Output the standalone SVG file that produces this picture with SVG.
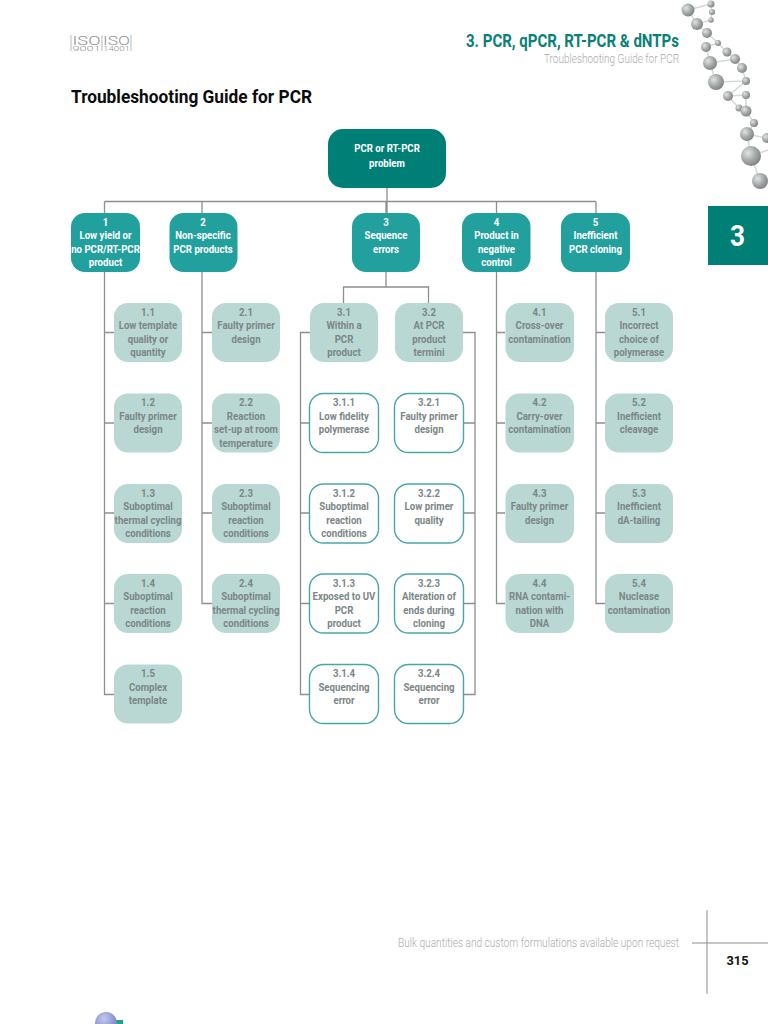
<svg xmlns="http://www.w3.org/2000/svg" width="768" height="1024" viewBox="0 0 768 1024">
<style>
text{font-family:"Roboto","Liberation Sans",sans-serif;font-weight:700;text-anchor:middle}
.c path{fill:none;stroke:#8b8f90;stroke-width:1.3}
.top rect{fill:#007f77}.l1 rect{fill:#21a09e}.l2 rect{fill:#b9d8d4}.l3 rect{fill:#fff;stroke:#4aa6a5;stroke-width:1.4}
.top text,.l1 text{fill:#fff;font-size:11.5px}
.l2 text,.l3 text{fill:#7b8687;font-size:11.5px}
.mol circle{fill:url(#ball)}.mol path{fill:none;stroke:#d6d8d8;stroke-width:1.5}
.lg{fill:#8f9396;font-weight:300;text-anchor:start}
</style>
<defs><radialGradient id="ball" cx=".35" cy=".35" r=".75"><stop offset="0" stop-color="#e2e4e4"/><stop offset=".55" stop-color="#a2a6a6"/><stop offset="1" stop-color="#777b7b"/></radialGradient>
<radialGradient id="sph" cx=".4" cy=".3" r=".8"><stop offset="0" stop-color="#c3c8ee"/><stop offset="1" stop-color="#6a74bc"/></radialGradient></defs>
<rect width="768" height="1024" fill="#fff"/>

<g id="molecule" class="mol">
<path d="M688 10L711 4L712 12L711 20L697 24L688 10M697 24L707 33L718 43L706 47L710 63L735 59L727 52L718 43M735 59L742 68L746 81L716 82L710 63M746 81L728 96L746 95L746 111L739 108L728 96M746 111L754 123L747 134L767 138M747 134L751 156L760 181M751 156L768 150"/>
<circle cx="688" cy="10" r="6.5"/><circle cx="711" cy="4" r="3.5"/><circle cx="712" cy="12" r="3"/><circle cx="711" cy="20" r="2.7"/><circle cx="697" cy="24" r="6"/><circle cx="707" cy="33" r="5"/><circle cx="718" cy="43" r="3"/><circle cx="706" cy="47" r="5"/><circle cx="727" cy="52" r="4.5"/><circle cx="735" cy="59" r="5"/><circle cx="710" cy="63" r="7"/><circle cx="742" cy="68" r="5"/><circle cx="716" cy="82" r="8"/><circle cx="746" cy="81" r="4"/><circle cx="728" cy="96" r="5"/><circle cx="746" cy="95" r="4"/><circle cx="739" cy="108" r="3.5"/><circle cx="746" cy="111" r="5.5"/><circle cx="754" cy="123" r="4"/><circle cx="747" cy="134" r="7"/><circle cx="767" cy="138" r="5"/><circle cx="751" cy="156" r="10"/><circle cx="760" cy="181" r="8"/>
</g>

<g id="iso-logo">
<path d="M71 35V51M102 35V51M131 35V51" stroke="#a8a8a8" stroke-width=".8"/>
<text class="lg" x="72.500" y="45" font-size="12.5" textLength="28" lengthAdjust="spacingAndGlyphs">ISO</text>
<text class="lg" x="103" y="45" font-size="12.5" textLength="27" lengthAdjust="spacingAndGlyphs">ISO</text>
<text class="lg" x="72.500" y="51" font-size="6.500" textLength="28" lengthAdjust="spacingAndGlyphs">9001</text>
<text class="lg" x="103" y="51" font-size="6.500" textLength="27" lengthAdjust="spacingAndGlyphs">14001</text>
</g>

<text x="679" y="46.500" style="text-anchor:end;fill:#0b7f78;font-size:18px" textLength="213" lengthAdjust="spacingAndGlyphs">3. PCR, qPCR, RT-PCR &amp; dNTPs</text>
<text x="679" y="63" style="text-anchor:end;fill:#a8acac;font-size:12px;font-weight:300" textLength="135" lengthAdjust="spacingAndGlyphs">Troubleshooting Guide for PCR</text>
<text x="71" y="103" style="text-anchor:start;fill:#0c0c0c;font-size:19px" textLength="241" lengthAdjust="spacingAndGlyphs">Troubleshooting Guide for PCR</text>

<g id="tab"><rect x="708" y="206" width="60" height="59" fill="#007f77"/><text x="737.500" y="246" style="fill:#fff;font-size:29px" textLength="15" lengthAdjust="spacingAndGlyphs">3</text></g>

<g id="connectors" class="c">
<path d="M387 188V213M104.500 201.500H596M104.500 201.500V213M202 201.500V213M386 201.500V213M496.500 201.500V213M596 201.500V213"/>
<path d="M104.500 271V694.500H114M104.500 332.500H114M104.500 423H114M104.500 513H114M104.500 603.500H114"/>
<path d="M202 271V603.500H212M202 332.500H212M202 423H212M202 513H212"/>
<path d="M386 271V287M343.500 303V287H428.500V303"/>
<path d="M310 332.500H300.500V694.500H310M300.500 423H310M300.500 513H310M300.500 603.500H310"/>
<path d="M463 332.500H475V694.500H463M475 423H463M475 513H463M475 603.500H463"/>
<path d="M496.500 271V603.500H505M496.500 332.500H505M496.500 423H505M496.500 513H505"/>
<path d="M596 271V603.500H605M596 332.500H605M596 423H605M596 513H605"/>
</g>

<g id="root" class="top"><rect x="328" y="129" width="118" height="59" rx="15"/><g transform="translate(387 0) scale(.84 1)"><text><tspan x="0" y="152.500">PCR or RT-PCR</tspan><tspan x="0" y="167">problem</tspan></text></g></g>

<g id="n1" class="l1"><rect x="71" y="213" width="69" height="59" rx="14"/><g transform="translate(105.500 0) scale(.84 1)"><text><tspan x="0" y="226">1</tspan><tspan x="0" y="239.500">Low yield or</tspan><tspan x="0" y="253">no PCR/RT-PCR</tspan><tspan x="0" y="266">product</tspan></text></g></g>
<g id="n2" class="l1"><rect x="169.500" y="213" width="68" height="59" rx="14"/><g transform="translate(203 0) scale(.84 1)"><text><tspan x="0" y="226">2</tspan><tspan x="0" y="239.500">Non-specific</tspan><tspan x="0" y="253">PCR products</tspan></text></g></g>
<g id="n3" class="l1"><rect x="352" y="213" width="68" height="59" rx="14"/><g transform="translate(386 0) scale(.84 1)"><text><tspan x="0" y="226">3</tspan><tspan x="0" y="239.500">Sequence</tspan><tspan x="0" y="253">errors</tspan></text></g></g>
<g id="n4" class="l1"><rect x="462" y="213" width="68.500" height="59" rx="14"/><g transform="translate(496.500 0) scale(.84 1)"><text><tspan x="0" y="226">4</tspan><tspan x="0" y="239.500">Product in</tspan><tspan x="0" y="253">negative</tspan><tspan x="0" y="266">control</tspan></text></g></g>
<g id="n5" class="l1"><rect x="561" y="213" width="69" height="59" rx="14"/><g transform="translate(595.500 0) scale(.84 1)"><text><tspan x="0" y="226">5</tspan><tspan x="0" y="239.500">Inefficient</tspan><tspan x="0" y="253">PCR cloning</tspan></text></g></g>

<g id="n1-1" class="l2"><rect x="114" y="303" width="68" height="59" rx="14"/><g transform="translate(148 0) scale(.84 1)"><text><tspan x="0" y="316">1.1</tspan><tspan x="0" y="329.500">Low template</tspan><tspan x="0" y="343">quality or</tspan><tspan x="0" y="356">quantity</tspan></text></g></g>
<g id="n1-2" class="l2"><rect x="114" y="393.500" width="68" height="59" rx="14"/><g transform="translate(148 0) scale(.84 1)"><text><tspan x="0" y="406.500">1.2</tspan><tspan x="0" y="420">Faulty primer</tspan><tspan x="0" y="433.500">design</tspan></text></g></g>
<g id="n1-3" class="l2"><rect x="114" y="484" width="68" height="59" rx="14"/><g transform="translate(148 0) scale(.84 1)"><text><tspan x="0" y="497">1.3</tspan><tspan x="0" y="510.500">Suboptimal</tspan><tspan x="0" y="524">thermal cycling</tspan><tspan x="0" y="537">conditions</tspan></text></g></g>
<g id="n1-4" class="l2"><rect x="114" y="574" width="68" height="59" rx="14"/><g transform="translate(148 0) scale(.84 1)"><text><tspan x="0" y="587">1.4</tspan><tspan x="0" y="600.500">Suboptimal</tspan><tspan x="0" y="614">reaction</tspan><tspan x="0" y="627">conditions</tspan></text></g></g>
<g id="n1-5" class="l2"><rect x="114" y="664.500" width="68" height="59" rx="14"/><g transform="translate(148 0) scale(.84 1)"><text><tspan x="0" y="677.500">1.5</tspan><tspan x="0" y="691">Complex</tspan><tspan x="0" y="704.500">template</tspan></text></g></g>

<g id="n2-1" class="l2"><rect x="212" y="303" width="68" height="59" rx="14"/><g transform="translate(246 0) scale(.84 1)"><text><tspan x="0" y="316">2.1</tspan><tspan x="0" y="329.500">Faulty primer</tspan><tspan x="0" y="343">design</tspan></text></g></g>
<g id="n2-2" class="l2"><rect x="212" y="393.500" width="68" height="59" rx="14"/><g transform="translate(246 0) scale(.84 1)"><text><tspan x="0" y="406.500">2.2</tspan><tspan x="0" y="420">Reaction</tspan><tspan x="0" y="433.500">set-up at room</tspan><tspan x="0" y="447">temperature</tspan></text></g></g>
<g id="n2-3" class="l2"><rect x="212" y="484" width="68" height="59" rx="14"/><g transform="translate(246 0) scale(.84 1)"><text><tspan x="0" y="497">2.3</tspan><tspan x="0" y="510.500">Suboptimal</tspan><tspan x="0" y="524">reaction</tspan><tspan x="0" y="537">conditions</tspan></text></g></g>
<g id="n2-4" class="l2"><rect x="212" y="574" width="68" height="59" rx="14"/><g transform="translate(246 0) scale(.84 1)"><text><tspan x="0" y="587">2.4</tspan><tspan x="0" y="600.500">Suboptimal</tspan><tspan x="0" y="614">thermal cycling</tspan><tspan x="0" y="627">conditions</tspan></text></g></g>

<g id="n3-1" class="l2"><rect x="310" y="303" width="68" height="59" rx="14"/><g transform="translate(344 0) scale(.84 1)"><text><tspan x="0" y="316">3.1</tspan><tspan x="0" y="329.500">Within a</tspan><tspan x="0" y="343">PCR</tspan><tspan x="0" y="356">product</tspan></text></g></g>
<g id="n3-2" class="l2"><rect x="395" y="303" width="68" height="59" rx="14"/><g transform="translate(429 0) scale(.84 1)"><text><tspan x="0" y="316">3.2</tspan><tspan x="0" y="329.500">At PCR</tspan><tspan x="0" y="343">product</tspan><tspan x="0" y="356">termini</tspan></text></g></g>

<g id="n3-1-1" class="l3"><rect x="309.500" y="393.500" width="69" height="59" rx="14"/><g transform="translate(344 0) scale(.84 1)"><text><tspan x="0" y="406.500">3.1.1</tspan><tspan x="0" y="420">Low fidelity</tspan><tspan x="0" y="433.500">polymerase</tspan></text></g></g>
<g id="n3-1-2" class="l3"><rect x="309.500" y="484" width="69" height="59" rx="14"/><g transform="translate(344 0) scale(.84 1)"><text><tspan x="0" y="497">3.1.2</tspan><tspan x="0" y="510.500">Suboptimal</tspan><tspan x="0" y="524">reaction</tspan><tspan x="0" y="537">conditions</tspan></text></g></g>
<g id="n3-1-3" class="l3"><rect x="309.500" y="574" width="69" height="59" rx="14"/><g transform="translate(344 0) scale(.84 1)"><text><tspan x="0" y="587">3.1.3</tspan><tspan x="0" y="600.500">Exposed to UV</tspan><tspan x="0" y="614">PCR</tspan><tspan x="0" y="627">product</tspan></text></g></g>
<g id="n3-1-4" class="l3"><rect x="309.500" y="664.500" width="69" height="59" rx="14"/><g transform="translate(344 0) scale(.84 1)"><text><tspan x="0" y="677.500">3.1.4</tspan><tspan x="0" y="691">Sequencing</tspan><tspan x="0" y="704.500">error</tspan></text></g></g>
<g id="n3-2-1" class="l3"><rect x="394.500" y="393.500" width="69" height="59" rx="14"/><g transform="translate(429 0) scale(.84 1)"><text><tspan x="0" y="406.500">3.2.1</tspan><tspan x="0" y="420">Faulty primer</tspan><tspan x="0" y="433.500">design</tspan></text></g></g>
<g id="n3-2-2" class="l3"><rect x="394.500" y="484" width="69" height="59" rx="14"/><g transform="translate(429 0) scale(.84 1)"><text><tspan x="0" y="497">3.2.2</tspan><tspan x="0" y="510.500">Low primer</tspan><tspan x="0" y="524">quality</tspan></text></g></g>
<g id="n3-2-3" class="l3"><rect x="394.500" y="574" width="69" height="59" rx="14"/><g transform="translate(429 0) scale(.84 1)"><text><tspan x="0" y="587">3.2.3</tspan><tspan x="0" y="600.500">Alteration of</tspan><tspan x="0" y="614">ends during</tspan><tspan x="0" y="627">cloning</tspan></text></g></g>
<g id="n3-2-4" class="l3"><rect x="394.500" y="664.500" width="69" height="59" rx="14"/><g transform="translate(429 0) scale(.84 1)"><text><tspan x="0" y="677.500">3.2.4</tspan><tspan x="0" y="691">Sequencing</tspan><tspan x="0" y="704.500">error</tspan></text></g></g>

<g id="n4-1" class="l2"><rect x="505.500" y="303" width="68.500" height="59" rx="14"/><g transform="translate(539.500 0) scale(.84 1)"><text><tspan x="0" y="316">4.1</tspan><tspan x="0" y="329.500">Cross-over</tspan><tspan x="0" y="343">contamination</tspan></text></g></g>
<g id="n4-2" class="l2"><rect x="505.500" y="393.500" width="68.500" height="59" rx="14"/><g transform="translate(539.500 0) scale(.84 1)"><text><tspan x="0" y="406.500">4.2</tspan><tspan x="0" y="420">Carry-over</tspan><tspan x="0" y="433.500">contamination</tspan></text></g></g>
<g id="n4-3" class="l2"><rect x="505.500" y="484" width="68.500" height="59" rx="14"/><g transform="translate(539.500 0) scale(.84 1)"><text><tspan x="0" y="497">4.3</tspan><tspan x="0" y="510.500">Faulty primer</tspan><tspan x="0" y="524">design</tspan></text></g></g>
<g id="n4-4" class="l2"><rect x="505.500" y="574" width="68.500" height="59" rx="14"/><g transform="translate(539.500 0) scale(.84 1)"><text><tspan x="0" y="587">4.4</tspan><tspan x="0" y="600.500">RNA contami-</tspan><tspan x="0" y="614">nation with</tspan><tspan x="0" y="627">DNA</tspan></text></g></g>

<g id="n5-1" class="l2"><rect x="605" y="303" width="68" height="59" rx="14"/><g transform="translate(639 0) scale(.84 1)"><text><tspan x="0" y="316">5.1</tspan><tspan x="0" y="329.500">Incorrect</tspan><tspan x="0" y="343">choice of</tspan><tspan x="0" y="356">polymerase</tspan></text></g></g>
<g id="n5-2" class="l2"><rect x="605" y="393.500" width="68" height="59" rx="14"/><g transform="translate(639 0) scale(.84 1)"><text><tspan x="0" y="406.500">5.2</tspan><tspan x="0" y="420">Inefficient</tspan><tspan x="0" y="433.500">cleavage</tspan></text></g></g>
<g id="n5-3" class="l2"><rect x="605" y="484" width="68" height="59" rx="14"/><g transform="translate(639 0) scale(.84 1)"><text><tspan x="0" y="497">5.3</tspan><tspan x="0" y="510.500">Inefficient</tspan><tspan x="0" y="524">dA-tailing</tspan></text></g></g>
<g id="n5-4" class="l2"><rect x="605" y="574" width="68" height="59" rx="14"/><g transform="translate(639 0) scale(.84 1)"><text><tspan x="0" y="587">5.4</tspan><tspan x="0" y="600.500">Nuclease</tspan><tspan x="0" y="614">contamination</tspan></text></g></g>

<g id="footer">
<path d="M707 910V994M692 943H768" stroke="#8b8f90" stroke-width="1" fill="none"/>
<text x="679" y="947" style="text-anchor:end;fill:#a9adad;font-size:12px;font-weight:300" textLength="281" lengthAdjust="spacingAndGlyphs">Bulk quantities and custom formulations available upon request</text>
<text x="737.500" y="965" style="fill:#111;font-size:13px" textLength="22" lengthAdjust="spacingAndGlyphs">315</text>
</g>
<g id="bottom-mark"><rect x="115" y="1020" width="8" height="4" fill="#1aa58c"/><circle cx="106" cy="1023" r="11" fill="url(#sph)"/></g>
</svg>
